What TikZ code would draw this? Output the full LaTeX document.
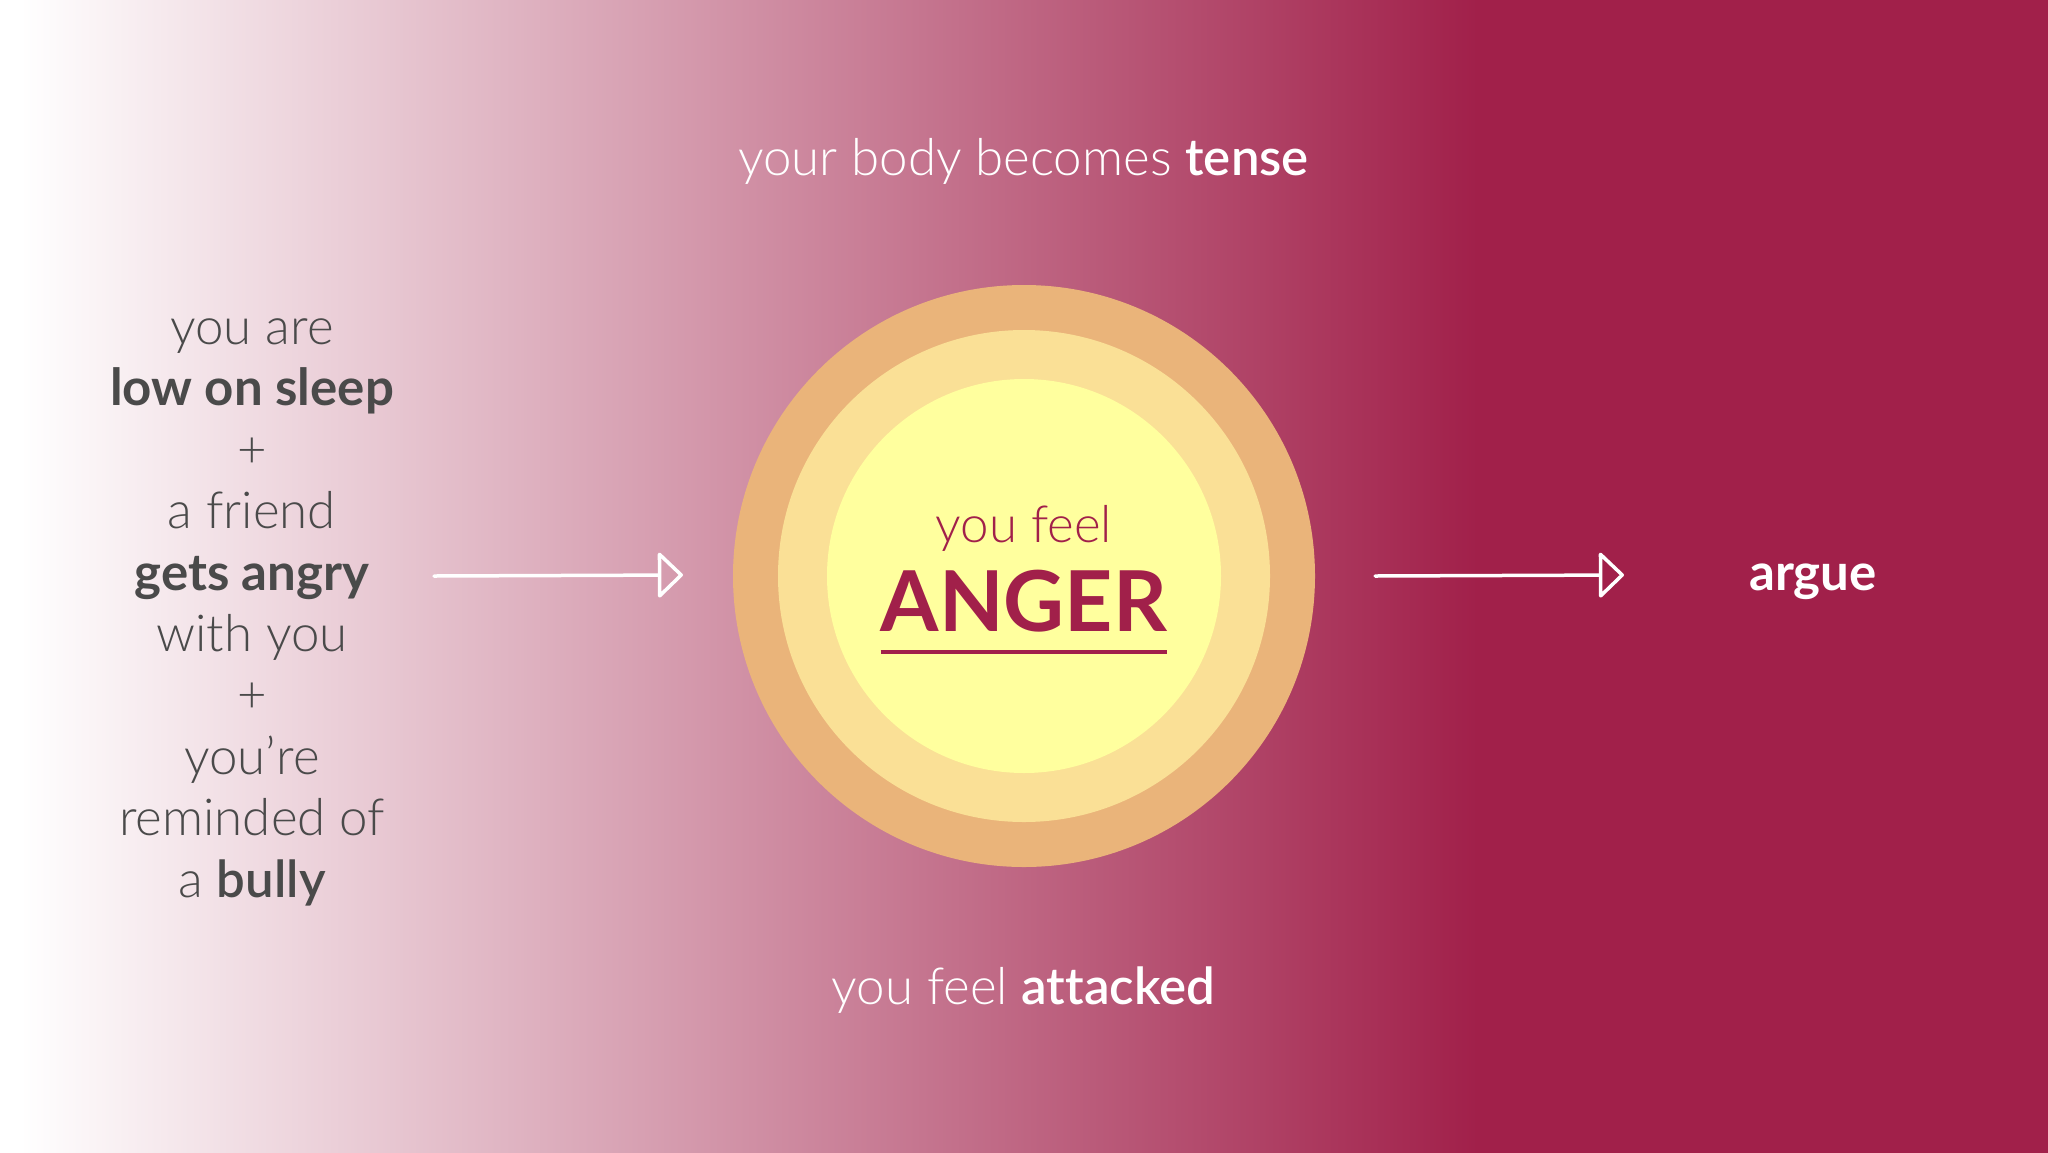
\documentclass[tikz,border=0pt]{standalone}
\usepackage{fontspec}
\setmainfont{Lato}[Ligatures={NoCommon}]
\newfontfamily\lt{Lato Light}[Ligatures={NoCommon}]
\usetikzlibrary{arrows.meta}
\definecolor{crim}{HTML}{A1204A}
\definecolor{gtxt}{HTML}{4A4A4A}
\definecolor{ring3}{HTML}{EAB47A}
\definecolor{ring2}{HTML}{FAE096}
\definecolor{ring1}{HTML}{FFFF9E}
\begin{document}
\begin{tikzpicture}[x=1pt,y=-1pt,
  txt/.style={inner sep=0pt, anchor=base, font=\lt\fontsize{51}{60}\selectfont},
  boldtxt/.style={font=\bfseries\fontsize{51}{60}\selectfont},
  side/.style={txt, text=gtxt},
  wtxt/.style={txt, text=white},
  disc/.style={circle, inner sep=0pt, draw=none},
  harrow/.style={white, line width=3.5pt, line cap=round,
    -{Triangle[open, length=26pt, width=49pt, round]}}]
\useasboundingbox (0,0) rectangle (2048,1152);
% background
\fill[white] (-10,-10) rectangle (22,1162);
\shade[left color=white, right color=crim] (20,-10) rectangle (1478,1162);
\fill[crim] (1476,-10) rectangle (2058,1162);
% sun
\node[disc, fill=ring3, minimum size=582pt] (sun3) at (1024,576) {};
\node[disc, fill=ring2, minimum size=492pt] (sun2) at (sun3.center) {};
\node[disc, fill=ring1, minimum size=394pt] (sun1) at (sun3.center) {};
\node[txt, text=crim] (feel) at (1024,542.7) {you feel};
\node[txt, text=crim, font=\bfseries\fontsize{84}{90}\selectfont] (anger) at (1024,631.7) {ANGER};
\draw[crim, line width=4pt] ([yshift=-20pt]anger.base west) -- ([yshift=-20pt]anger.base east);
% left column
\node[side] (l1) at (252,344.5) {you are};
\node[side, boldtxt] (l2) at (252,405.9) {low on sleep};
\node[side] (l3) at (252,467.3) {+};
\node[side] (l4) at (252,528.7) {a friend};
\node[side, boldtxt] (l5) at (252,590.1) {gets angry};
\node[side] (l6) at (252,651.5) {with you};
\node[side] (l7) at (252,712.9) {+};
\node[side] (l8) at (252,774.3) {you’re};
\node[side] (l9) at (252,835.7) {reminded of};
\node[side] (l10) at (252,897.1) {a {\bfseries bully}};
% top / bottom
\node[wtxt] (tense) at (1023.5,175) {your body becomes {\bfseries tense}};
\node[wtxt] (attacked) at (1023.5,1004) {you feel {\bfseries attacked}};
% right
\node[wtxt, boldtxt] (argue) at (1813,590) {argue};
% arrows
\coordinate (a1s) at (434,576);
\coordinate (a1e) at (683,575);
\coordinate (a2s) at (1375,576);
\coordinate (a2e) at (1624,575);
\draw[harrow] (a1s) -- (a1e);
\draw[harrow] (a2s) -- (a2e);
\end{tikzpicture}
\end{document}
